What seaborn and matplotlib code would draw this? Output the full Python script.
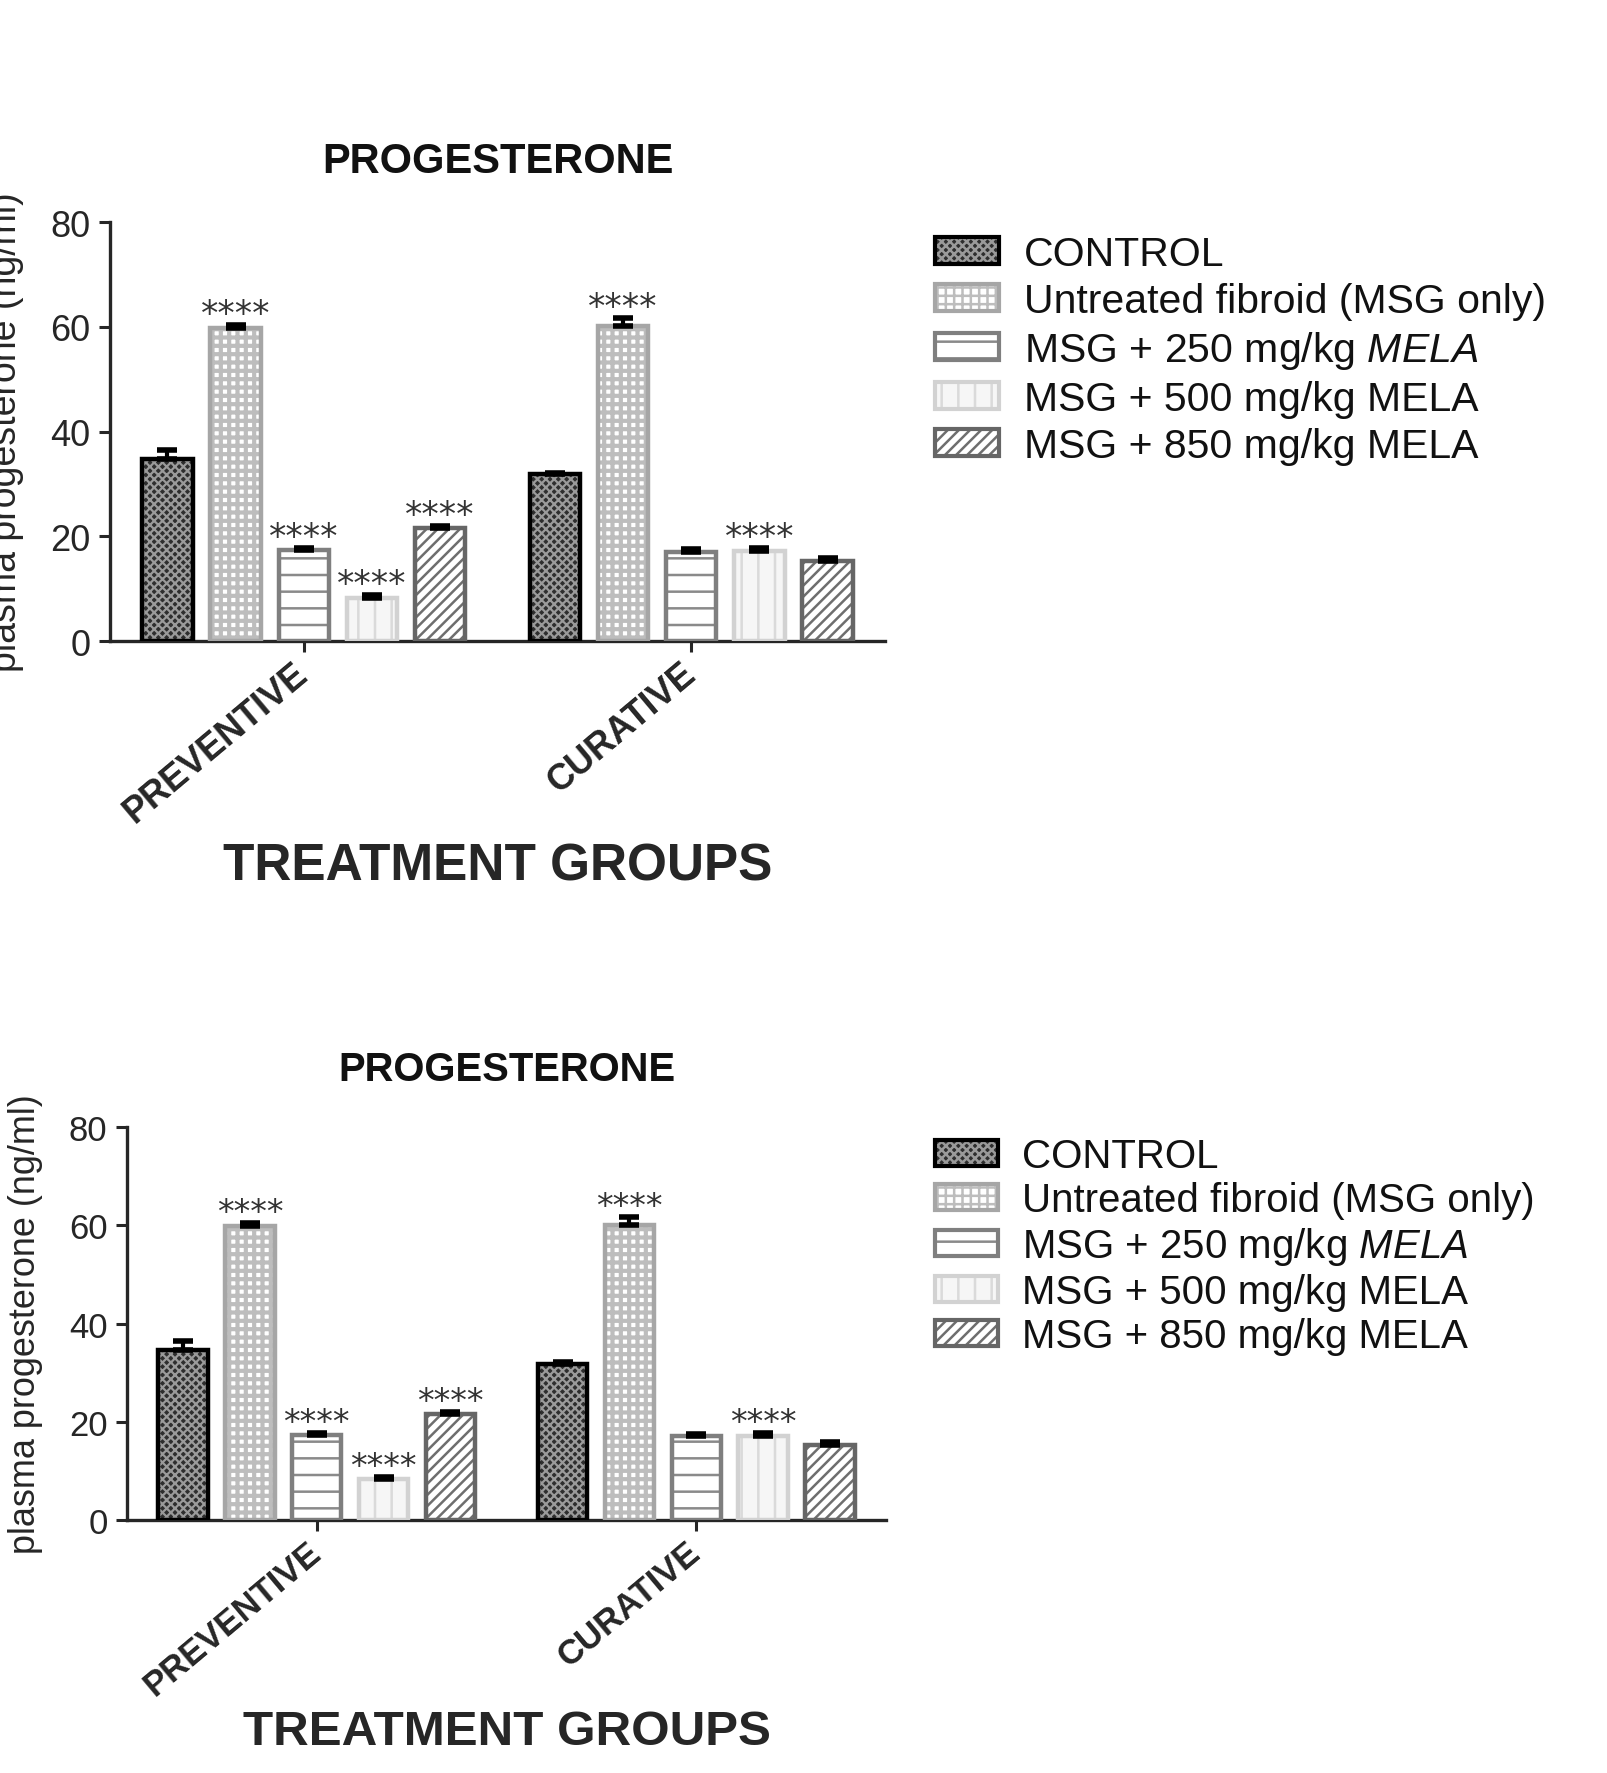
import matplotlib
matplotlib.use("Agg")
import matplotlib.pyplot as plt
from matplotlib.patches import Patch, Rectangle
from matplotlib.legend_handler import HandlerTuple
import pandas as pd
import seaborn as sns

# values (ng/ml), mean and SEM
groups = ["PREVENTIVE", "CURATIVE"]
treatments = ["CONTROL", "Untreated fibroid (MSG only)", "MSG + 250 mg/kg MELA",
              "MSG + 500 mg/kg MELA", "MSG + 850 mg/kg MELA"]
legend_labels = ["CONTROL", "Untreated fibroid (MSG only)", r"MSG + 250 mg/kg $\mathit{MELA}$",
                 "MSG + 500 mg/kg MELA", "MSG + 850 mg/kg MELA"]
mean_preventive = [34.7, 59.8, 17.4, 8.3, 21.5]
mean_curative = [31.8, 60.1, 17.0, 17.2, 15.3]
sem_preventive = [1.8, 0.6, 0.4, 0.5, 0.4]
sem_curative = [0.3, 1.5, 0.6, 0.6, 0.5]
stars_preventive = ["", "****", "****", "****", "****"]
stars_curative = ["", "****", "", "****", ""]
yticks = [0, 20, 40, 60, 80]

# bar looks: fill, hatch, hatch colour, hatch width, outline colour
face_colors = ["#2e2e2e", "#ffffff", "#ffffff", "#f6f6f6", "#ffffff"]
hatches = ["xxxx", "++", "-", "|", "///"]
hatch_colors = ["#9a9a9a", "#bdbdbd", "#8a8a8a", "#dadada", "#6e6e6e"]
hatch_widths = [1.6, 3.0, 1.8, 1.8, 1.8]
edge_colors = ["#000000", "#a6a6a6", "#7f7f7f", "#d2d2d2", "#666666"]


def make_frame():
    rows = []
    for g, means, sems in [(groups[0], mean_preventive, sem_preventive),
                           (groups[1], mean_curative, sem_curative)]:
        for t, m, s in zip(treatments, means, sems):
            rows.append({"group": g, "treatment": t, "value": m, "sem": s})
    return pd.DataFrame(rows)


def style_hatch(p, i):
    p.set_hatch(hatches[i])
    p.set_edgecolor(hatch_colors[i])
    p.set_linewidth(0)
    if hasattr(p, "set_hatch_linewidth"):
        p.set_hatch_linewidth(hatch_widths[i])


def draw_panel(fig, rect, df, k, pad_title, legend_anchor, legend_fs, legend_spacing):
    ax = fig.add_axes(rect)
    sns.barplot(data=df, x="group", y="value", hue="treatment", order=groups,
                hue_order=treatments, palette=face_colors, saturation=1,
                errorbar=None, width=0.88, gap=0.26, legend=False, ax=ax)

    stars = [stars_preventive, stars_curative]
    sems = [sem_preventive, sem_curative]
    bar_sets = list(ax.containers)
    for i, cont in enumerate(bar_sets):
        for j, bar in enumerate(cont):
            style_hatch(bar, i)
            ax.add_patch(Rectangle(bar.get_xy(), bar.get_width(), bar.get_height(),
                                   fill=False, edgecolor=edge_colors[i], lw=3.2, zorder=3))
            xc = bar.get_x() + bar.get_width() / 2
            top = bar.get_height()
            ax.errorbar(xc, top, yerr=[[0], [sems[j][i]]], fmt="none", ecolor="black",
                        elinewidth=3, capsize=7, capthick=4, zorder=4)
            if stars[j][i]:
                ax.text(xc, top + sems[j][i] + 0.2, stars[j][i], ha="center", va="baseline",
                        fontsize=25 * k, color="#333333", family="DejaVu Sans")

    ax.set_xlim(-0.5, 1.5)
    ax.set_ylim(0, 80)
    ax.set_yticks(yticks)
    ax.set_xticks([0, 1])
    ax.set_xticklabels(groups, rotation=40, ha="right", va="center", rotation_mode="anchor",
                       fontweight="bold", fontsize=26 * k)
    ax.tick_params(axis="y", length=8, width=2.2, labelsize=26 * k, pad=6)
    ax.tick_params(axis="x", length=8, width=2.2, pad=12)
    sns.despine(ax=ax)
    for s in ["left", "bottom"]:
        ax.spines[s].set_linewidth(2.4)

    ax.set_title("PROGESTERONE", fontsize=30 * k, fontweight="bold", pad=pad_title)
    ax.set_xlabel("TREATMENT GROUPS", fontsize=37 * k, fontweight="bold", va="center")
    ax.xaxis.set_label_coords(0.5, -0.537)
    ax.set_ylabel("plasma progesterone (ng/ml)", fontsize=27 * k, va="center")
    ax.yaxis.set_label_coords(-0.134, 0.5)

    handles = []
    for i in range(len(treatments)):
        h1 = Patch(facecolor=face_colors[i])
        style_hatch(h1, i)
        h2 = Patch(fill=False, edgecolor=edge_colors[i], lw=3)
        handles.append((h1, h2))
    ax.legend(handles, legend_labels, handler_map={tuple: HandlerTuple(ndivide=1, pad=0)},
              loc="upper left", bbox_to_anchor=legend_anchor, bbox_transform=fig.transFigure,
              frameon=False, fontsize=legend_fs, borderpad=0, borderaxespad=0,
              handlelength=1.56, handleheight=0.64, handletextpad=0.6,
              labelspacing=legend_spacing)
    return ax


def main():
    sns.set_style("ticks")
    plt.rcParams["font.family"] = ["Liberation Sans", "DejaVu Sans"]
    plt.rcParams["mathtext.fontset"] = "custom"
    plt.rcParams["mathtext.rm"] = "Liberation Sans"
    plt.rcParams["mathtext.it"] = "Liberation Sans:italic"
    plt.rcParams["hatch.linewidth"] = 1.8
    plt.rcParams["text.color"] = "#111111"

    df = make_frame()
    fig = plt.figure(figsize=(16.07, 17.74), dpi=100)
    W, H = 1607, 1774

    # top panel (slightly larger, y label cut at the page edge)
    draw_panel(fig, [110 / W, 1 - 642 / H, 775 / W, 419 / H], df, 1.0, 36,
               (935 / W, 1 - 236 / H), 29.5, 0.22)
    # bottom panel
    draw_panel(fig, [127 / W, 1 - 1521 / H, 759 / W, 393 / H], df, 0.96, 34,
               (935 / W, 1 - 1138 / H), 29, 0.15)

    fig.savefig("out.png", dpi=100)


if __name__ == "__main__":
    main()
